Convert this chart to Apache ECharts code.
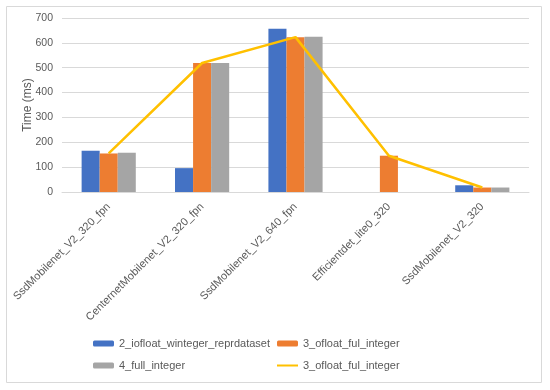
<!DOCTYPE html>
<html><head><meta charset="utf-8">
<script src="https://cdn.jsdelivr.net/npm/echarts@6/dist/echarts.min.js"></script>
<style>html,body{margin:0;padding:0;background:#fff}#c{width:550px;height:390px}</style>
</head><body><div id="c"></div>
<script>
const categories = ['SsdMobilenet_V2_320_fpn','CenternetMobilenet_V2_320_fpn','SsdMobilenet_V2_640_fpn','Efficientdet_lite0_320','SsdMobilenet_V2_320'];
const iofloatWinteger = [166, 96, 657, null, 27];
const ofloatFulInteger = [155, 519, 623, 146, 18];
const fullInteger = [158, 519, 625, null, 18];
const ofloatLine = [155, 519, 623, 146, 18];
const yTicks = {min: 0, max: 700, interval: 100};

const font = 'Liberation Sans';
const txt = '#595959';
const chart = echarts.init(document.getElementById('c'));
const legendBase = {orient:'horizontal', itemWidth:21, itemHeight:6, padding:0, textStyle:{color:txt, fontSize:11, fontFamily:font}, selectedMode:false, formatter: n => n.trim()};
chart.setOption({
  animation:false,
  graphic:[{type:'rect', shape:{x:6.5,y:6.5,width:535,height:376}, style:{fill:'none', stroke:'#d9d9d9', lineWidth:1}}],
  grid:{left:62, right:21, top:18, bottom:198, containLabel:false},
  legend:[
    Object.assign({}, legendBase, {left:93, top:338, data:['2_iofloat_winteger_reprdataset']}),
    Object.assign({}, legendBase, {left:277, top:338, data:['3_ofloat_ful_integer']}),
    Object.assign({}, legendBase, {left:93, top:360, data:['4_full_integer']}),
    Object.assign({}, legendBase, {left:277, top:360, itemHeight:2, icon:'rect', data:['3_ofloat_ful_integer ']})
  ],
  xAxis:{type:'category', data:categories,
    axisLine:{lineStyle:{color:'#d9d9d9'}}, axisTick:{show:false},
    axisLabel:{rotate:45, color:txt, fontSize:11, fontFamily:font, margin:13, interval:0}},
  yAxis:{type:'value', min:yTicks.min, max:yTicks.max, interval:yTicks.interval,
    name:'Time (ms)', nameLocation:'middle', nameGap:28, nameRotate:90, nameMoveOverlap:false,
    nameTextStyle:{color:txt, fontSize:12, fontFamily:font},
    axisLine:{show:false}, axisTick:{show:false},
    axisLabel:{color:txt, fontSize:10.5, fontFamily:font, margin:9},
    splitLine:{lineStyle:{color:'#d9d9d9'}}},
  series:[
    {name:'2_iofloat_winteger_reprdataset', type:'bar', data:iofloatWinteger, itemStyle:{color:'#4472C4'}, barGap:'0%', barCategoryGap:'42%'},
    {name:'3_ofloat_ful_integer', type:'bar', data:ofloatFulInteger, itemStyle:{color:'#ED7D31'}},
    {name:'4_full_integer', type:'bar', data:fullInteger, itemStyle:{color:'#A5A5A5'}},
    {name:'3_ofloat_ful_integer ', type:'line', data:ofloatLine, symbol:'none', lineStyle:{color:'#FFC000', width:2.5}, itemStyle:{color:'#FFC000'}, z:5}
  ]
});
</script></body></html>
